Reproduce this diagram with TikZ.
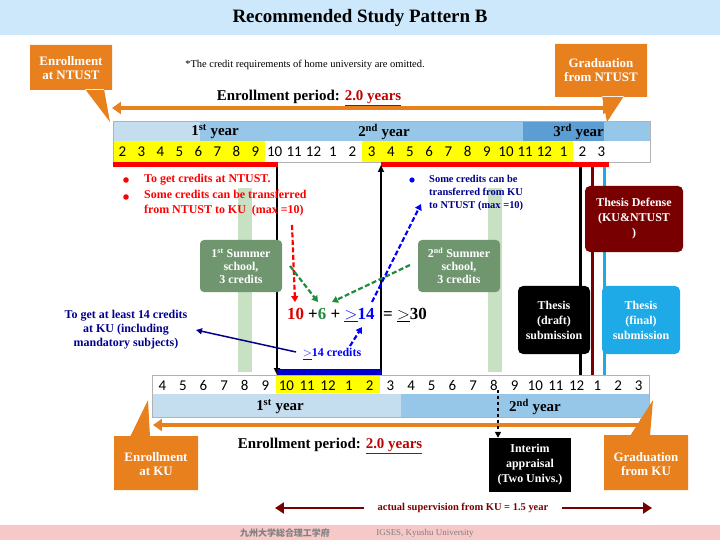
\documentclass[tikz,border=0pt]{standalone}
\usepackage{fontspec}
\setmainfont{Liberation Serif}
\newfontfamily\digs{Carlito}
\newfontfamily\cjk{Noto Sans CJK JP}
\usetikzlibrary{arrows.meta}
\definecolor{orng}{RGB}{232,128,30}
\definecolor{titleblue}{RGB}{204,232,250}
\definecolor{yr1}{RGB}{196,222,240}
\definecolor{yr2}{RGB}{150,198,232}
\definecolor{yr3}{RGB}{92,158,212}
\definecolor{yel}{RGB}{255,255,0}
\definecolor{ssgreen}{RGB}{112,150,112}
\definecolor{lgreen}{RGB}{200,225,195}
\definecolor{dred}{RGB}{120,0,0}
\definecolor{tblue}{RGB}{30,170,230}
\definecolor{navy}{RGB}{0,0,140}
\definecolor{tgreen}{RGB}{30,140,60}
\definecolor{pinkband}{RGB}{246,200,200}
\begin{document}
\begin{tikzpicture}[x=1bp,y=-1bp,
  callout/.style={fill=orng,draw=none},
  calltext/.style={text=white,font=\bfseries\fontsize{13}{14}\selectfont,align=center},
  dig/.style={font=\digs\fontsize{15}{15}\selectfont,inner sep=0pt,anchor=base},
  yrtext/.style={font=\bfseries\fontsize{15}{15}\selectfont,inner sep=0pt},
  summer/.style={fill=ssgreen,text=white,rounded corners=4pt,minimum width=82bp,minimum height=52bp,align=center,font=\bfseries\fontsize{12}{13}\selectfont,inner sep=1pt},
  tbox/.style={rounded corners=5pt,text=white,align=center,font=\bfseries\fontsize{12}{15}\selectfont,inner sep=1pt},
  oarrow/.style={orng,line width=4pt,{Triangle[length=9pt,width=12pt]}-{Triangle[length=9pt,width=12pt]}},
  dsh/.style={line width=2.2pt,dash pattern=on 5pt off 2.5pt,-{Triangle[length=6pt,width=7pt]}},
  small/.style={font=\bfseries\fontsize{11}{13}\selectfont,align=center,inner sep=0pt}]
\useasboundingbox (0,0) rectangle (720,540);
% title
\fill[titleblue] (0,0) rectangle (720,35);
\node[font=\bfseries\fontsize{19}{20}\selectfont] (title) at (360,18) {Recommended Study Pattern B};
% top callouts
\fill[callout] (30,45) rectangle (112,90) (85,89) -- (104,89) -- (110,122) -- cycle;
\node[calltext] (enrN) at (71,68) {Enrollment\\at NTUST};
\fill[callout] (555,44) rectangle (647,97) (602,96) -- (624,96) -- (607,122) -- cycle;
\node[calltext] (gradN) at (601,70) {Graduation\\from NTUST};
\node[font=\fontsize{10.5}{12}\selectfont] (note) at (305,65) {*The credit requirements of home university are omitted.};
\node[font=\bfseries\fontsize{15}{16}\selectfont] (periodA) at (309,98) {Enrollment period: \textcolor{red!75!black}{\underline{2.0 years}}};
\coordinate (oaL) at (112,108); \coordinate (oaR) at (612,108);
\draw[oarrow] (oaL) -- (oaR);
% top year band
\fill[yr1] (113,121) rectangle (200,141);
\fill[yr2] (200,121) rectangle (523,141);
\fill[yr3] (523,121) rectangle (604,141);
\fill[yr2] (604,121) rectangle (650,141);
\node[yrtext,anchor=east] (y1) at (239,132) {1\textsuperscript{st} year};
\node[yrtext,anchor=east] (y2) at (410,132) {2\textsuperscript{nd} year};
\node[yrtext,anchor=east] (y3) at (604,132) {3\textsuperscript{rd} year};
% top months
\fill[yel] (113,141) rectangle (265,162);
\fill[white] (265,141) rectangle (362,162);
\fill[yel] (362,141) rectangle (573,162);
\draw[gray!60] (113,121) rectangle (650,162);
\foreach \m [count=\i] in {2,3,4,5,6,7,8,9}
  \node[dig] at ({113+(\i-0.5)*19},157) {\m};
\foreach \m [count=\i] in {10,11,12,1,2}
  \node[dig] at ({265+(\i-0.5)*19.4},157) {\m};
\foreach \m [count=\i] in {3,4,5,6,7,8,9,10,11,12,1}
  \node[dig] at ({362+(\i-0.5)*19.2},157) {\m};
\foreach \m [count=\i] in {2,3}
  \node[dig] at ({573+(\i-0.5)*19},157) {\m};
\fill[red] (113,162) rectangle (278,167);
\fill[red] (381,162) rectangle (609,167);
% vertical guides
\fill[lgreen] (238,188) rectangle (252,372);
\fill[lgreen] (488,188) rectangle (502,372);
\draw[line width=3pt] (580,167) -- (580,375);
\draw[dred,line width=3pt] (592,167) -- (592,375);
\draw[tblue,line width=3pt] (604,167) -- (604,375);
\coordinate (blT) at (277,167); \coordinate (blB) at (277,375);
\coordinate (brT) at (381,165); \coordinate (brB) at (381,375);
\draw[line width=2pt,-{Triangle[length=7pt,width=6pt]}] (blT) -- (blB);
\draw[line width=2pt,-{Triangle[length=7pt,width=6pt]}] (brB) -- (brT);
% texts
\fill[red] (126,180) circle (2.8);
\fill[red] (126,197) circle (2.8);
\node[small,text=red,anchor=west,font=\bfseries\fontsize{12}{14}\selectfont] (b1) at (144,180) {To get credits at NTUST.};
\node[small,text=red,anchor=north west,align=left,font=\bfseries\fontsize{12}{15}\selectfont] (b2) at (144,190) {Some credits can be transferred\\from NTUST to KU\ \ (max =10)};
\fill[blue] (412,180) circle (2.6);
\node[small,text=navy,anchor=north west,align=left,font=\bfseries\fontsize{10.5}{13}\selectfont] (b3) at (429,175) {Some credits can be\\transferred from KU\\to NTUST (max =10)};
\node[summer] (s1) at (241,266) {1\textsuperscript{st} Summer\\school,\\3 credits};
\node[summer] (s2) at (459,266) {2\textsuperscript{nd} Summer\\school,\\3 credits};
\node[tbox,fill=dred,minimum width=98bp,minimum height=66bp] (def) at (634,219) {Thesis Defense\\(KU\&NTUST\\)};
\node[tbox,fill=black,minimum width=72bp,minimum height=68bp] (draft) at (554,320) {Thesis\\(draft)\\submission};
\node[tbox,fill=tblue,minimum width=78bp,minimum height=68bp] (final) at (641,320) {Thesis\\(final)\\submission};
\node[font=\bfseries\fontsize{17}{18}\selectfont,inner sep=1pt] (sum) at (357,315)
  {\textcolor{red!85!black}{10} +\textcolor{tgreen}{6} + \textcolor{blue}{$\underline{>}$14}\ \ = $\underline{>}$30};
\node[small,text=navy,font=\bfseries\fontsize{12}{14}\selectfont] (ku14) at (126,330) {To get at least 14 credits\\at KU (including\\mandatory subjects)};
\node[small,text=blue,font=\bfseries\fontsize{12}{14}\selectfont] (cr14) at (332,354) {$\underline{>}$14 credits};
\coordinate (rdS) at (292,225); \coordinate (rdE) at (295,302);
\draw[red,dsh] (rdS) -- (rdE);
\coordinate (g1S) at (290,266); \coordinate (g1E) at (318,302);
\coordinate (g2S) at (410,265); \coordinate (g2E) at (332,302);
\draw[tgreen,dsh] (g1S) -- (g1E);
\draw[tgreen,dsh] (g2S) -- (g2E);
\coordinate (buS) at (372,302); \coordinate (buE) at (421,204);
\draw[blue,dsh] (buS) -- (buE);
\coordinate (b14S) at (350,346); \coordinate (b14E) at (362,327);
\draw[blue,dsh] (b14S) -- (b14E);
\coordinate (bkS) at (296,352); \coordinate (bkE) at (196,330);
\draw[navy,line width=1.5pt,-{Triangle[length=6pt,width=6pt]}] (bkS) -- (bkE);
% bottom months
\fill[blue!80!black] (277,369) rectangle (381,375);
\fill[yel] (276,375) rectangle (380,393);
\foreach \m [count=\i] in {4,5,6,7,8,9}
  \node[dig] at ({152+(\i-0.5)*20.6},390) {\m};
\foreach \m [count=\i] in {10,11,12,1,2}
  \node[dig] at ({276+(\i-0.5)*20.8},390) {\m};
\foreach \m [count=\i] in {3,4,5,6,7,8,9,10,11,12,1,2,3}
  \node[dig] at ({380+(\i-0.5)*20.7},390) {\m};
\fill[yr1] (152,394) rectangle (401,417);
\fill[yr2] (401,394) rectangle (649,417);
\draw[gray!60] (152,375) rectangle (649,417);
\node[yrtext] (y1b) at (280,407) {1\textsuperscript{st} year};
\node[yrtext] (y2b) at (535,407) {2\textsuperscript{nd} year};
\coordinate (obL) at (153,425); \coordinate (obR) at (649,425);
\draw[oarrow] (obL) -- (obR);
% bottom callouts
\fill[callout] (114,436) rectangle (198,490) (130,437) -- (150,437) -- (148,400) -- cycle;
\node[calltext] (enrK) at (156,464) {Enrollment\\at KU};
\fill[callout] (604,435) rectangle (688,490) (630,436) -- (650,436) -- (653,400) -- cycle;
\node[calltext] (gradK) at (646,464) {Graduation\\from KU};
\node[font=\bfseries\fontsize{15}{16}\selectfont] (periodB) at (330,446) {Enrollment period: \textcolor{red!75!black}{\underline{2.0 years}}};
\node[tbox,fill=black,rounded corners=0pt,minimum width=82bp,minimum height=54bp,font=\bfseries\fontsize{12}{15}\selectfont] (interim) at (530,465) {Interim\\appraisal\\(Two Univs.)};
\coordinate (imS) at (498,390);
\draw[line width=1.5pt,dashed,-{Triangle[length=6pt,width=6pt]}] (imS) -- (interim.north -| imS);
\node[font=\bfseries\fontsize{10.5}{12}\selectfont,text=dred] (sup) at (463,508) {actual supervision from KU = 1.5 year};
\coordinate (supL) at (275,508); \coordinate (supR) at (652,508);
\draw[dred,line width=3pt,-{Triangle[length=9pt,width=11pt]}] (sup.west) ++(-10,0) -- (supL);
\draw[dred,line width=3pt,-{Triangle[length=9pt,width=11pt]}] (sup.east) ++(10,0) -- (supR);
% footer
\fill[pinkband] (0,525) rectangle (720,540);
\node[font=\cjk\bfseries\fontsize{9}{10}\selectfont,text=gray] (f1) at (285,533) {九州大学総合理工学府};
\node[font=\fontsize{9}{10}\selectfont,text=gray] (f2) at (425,533) {IGSES, Kyushu University};
\end{tikzpicture}
\end{document}
